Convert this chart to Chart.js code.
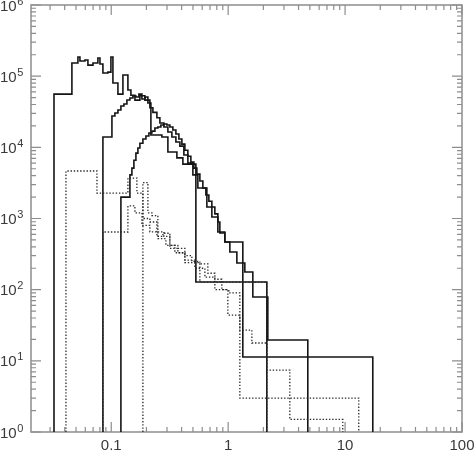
<!DOCTYPE html>
<html>
<head>
<meta charset="utf-8">
<script src="https://cdn.jsdelivr.net/npm/chart.js@4.4.1/dist/chart.umd.min.js"></script>
<style>
  html, body { margin: 0; padding: 0; background: #fff; }
</style>
</head>
<body>
<canvas id="chart" width="474" height="454"></canvas>
<script>
// histogram bin edges (x) and counts per bin (y)
const solidAEdges = [0.0324, 0.0461, 0.0519, 0.0540, 0.0596, 0.0632, 0.0698, 0.0769, 0.0801, 0.0849,
  0.0937, 0.0994, 0.1034, 0.1141, 0.1259, 0.1389, 0.1474, 0.1595, 0.1759, 0.1941, 0.2142, 0.2272,
  0.2458, 0.2607, 0.2821, 0.3052, 0.3302, 0.3573, 0.3865, 0.4182, 0.4523, 0.4993, 0.5508, 0.6575,
  0.7256, 0.8166, 0.9371, 1.034, 1.187, 1.389, 1.626, 2.184, 4.80];
const solidACounts = [5.6e4, 1.53e5, 1.86e5, 1.63e5, 1.69e5, 1.43e5, 1.53e5, 1.80e5, 1.48e5, 1.11e5,
  1.14e5, 1.86e5, 8.0e4, 5.6e4, 1.04e5, 6.4e4, 5.4e4, 4.6e4, 5.3e4, 4.6e4, 3.6e4, 3.1e4, 2.6e4,
  2.2e4, 1.93e4, 1.64e4, 1.4e4, 1.19e4, 1.04e4, 7.8e3, 6.0e3, 4.1e3, 2.68e3, 1.45e3, 1.05e3, 646,
  467, 338, 237, 177, 79, 19.6];

const solidBEdges = [0.0849, 0.1014, 0.1075, 0.1141, 0.1210, 0.1284, 0.1362, 0.1445, 0.1533, 0.1626,
  0.1725, 0.1830, 0.1941, 0.2059, 0.2184, 0.2712, 0.3052, 0.3644, 0.4101, 0.5296, 2.142];
const solidBCounts = [1.40e4, 2.75e4, 3.04e4, 3.34e4, 3.81e4, 4.06e4, 4.62e4, 4.93e4, 5.26e4, 5.09e4,
  5.6e4, 4.77e4, 5.09e4, 4.2e4, 1.49e4, 1.4e4, 8.6e3, 7.1e3, 5.8e3, 128];

const solidCEdges = [0.1210, 0.1445, 0.1503, 0.1563, 0.1626, 0.1691, 0.1759, 0.1866, 0.1980, 0.2100,
  0.2228, 0.2363, 0.2506, 0.2660, 0.2821, 0.2992, 0.3174, 0.3367, 0.3573, 0.3790, 0.4020, 0.4264,
  0.4523, 0.4798, 0.5090, 0.5400, 0.5730, 0.6077, 0.6447, 0.6840, 0.7256, 0.7697, 0.8166, 0.8492,
  0.9371, 1.335, 17.26];
const solidCCounts = [2.0e3, 4.1e3, 5.1e3, 6.6e3, 8.3e3, 9.8e3, 1.14e4, 1.31e4, 1.44e4, 1.59e4,
  1.69e4, 1.87e4, 1.93e4, 2.06e4, 2.13e4, 2.06e4, 1.93e4, 1.75e4, 1.54e4, 1.31e4, 1.11e4, 9.1e3,
  7.5e3, 6.2e3, 5.1e3, 4.2e3, 3.36e3, 2.68e3, 2.14e3, 1.75e3, 1.45e3, 1.16e3, 893, 625, 467, 11.3];

const dottedAEdges = [0.0410, 0.0755, 0.1389, 0.1658, 0.1866, 0.2142, 0.2458, 0.2766, 0.3174, 0.3716,
  0.4264, 0.4893, 0.5730, 0.6706, 0.7697, 0.8835, 1.014, 1.259, 13.09];
const dottedACounts = [4.65e3, 2.28e3, 3.7e3, 2.28e3, 1.0e3, 893, 560, 620, 420, 380, 300, 250, 230,
  170, 140, 100, 90, 3.0];

const dottedBEdges = [0.0849, 0.1389, 0.1595, 0.1830, 0.2142, 0.2506, 0.2934, 0.3503, 0.4264, 0.5193,
  0.6323, 0.7697, 0.9941, 1.259, 1.595, 2.142, 3.369, 9.557];
const dottedBCounts = [646, 1.5e3, 1.2e3, 800, 650, 520, 420, 330, 260, 200, 150, 100, 44, 27, 17.8,
  7.4, 1.5];

const dottedCEdges = [0.1866, 0.2059, 0.2228, 0.2506, 0.2821, 0.3174, 0.3716, 0.4264, 0.5730, 2.142];
const dottedCCounts = [3.2e3, 1.2e3, 1.1e3, 650, 560, 380, 330, 240, 128];

const xMajor = [0.1, 1, 10, 100];
const xTickLabels = ["0.1", "1", "10", "100"];
const yExponents = [0, 1, 2, 3, 4, 5, 6];

const X_MIN = 0.0206, X_MAX = 100, Y_MIN = 1, Y_MAX = 1e6;

// turn edges/counts into a step outline that starts and ends on the bottom axis
function stepPoints(edges, counts) {
  const pts = [{ x: edges[0], y: Y_MIN }];
  counts.forEach((c, i) => pts.push({ x: edges[i], y: c }));
  pts.push({ x: edges[edges.length - 1], y: Y_MIN });
  return pts;
}

function solid(edges, counts) {
  return { data: stepPoints(edges, counts), borderColor: "#151515", borderWidth: 1.6 };
}
function dotted(edges, counts) {
  return { data: stepPoints(edges, counts), borderColor: "#2a2a2a", borderWidth: 1.3, borderDash: [1.4, 1.8] };
}

const framePlugin = {
  id: "frame",
  beforeDatasetsDraw(chart) {
    const { ctx, chartArea: a, scales } = chart;
    const xs = scales.x, ys = scales.y;
    ctx.save();
    ctx.strokeStyle = "#8d8d8d";
    ctx.lineWidth = 1.5;
    ctx.strokeRect(a.left, a.top, a.right - a.left, a.bottom - a.top);

    ctx.lineWidth = 1.2;
    ctx.beginPath();
    // y ticks, left and right
    for (let k = 0; k <= 6; k++) {
      for (let m = 1; m <= 9; m++) {
        const v = m * Math.pow(10, k);
        if (v > Y_MAX) break;
        const py = ys.getPixelForValue(v);
        const len = m === 1 ? 10 : 5;
        ctx.moveTo(a.left, py); ctx.lineTo(a.left + len, py);
        ctx.moveTo(a.right, py); ctx.lineTo(a.right - len, py);
      }
    }
    // x ticks, bottom and top
    for (let k = -2; k <= 2; k++) {
      for (let m = 1; m <= 9; m++) {
        const v = m * Math.pow(10, k);
        if (v < X_MIN || v > X_MAX) continue;
        const px = xs.getPixelForValue(v);
        const len = m === 1 ? 10 : 5;
        ctx.moveTo(px, a.bottom); ctx.lineTo(px, a.bottom - len);
        ctx.moveTo(px, a.top); ctx.lineTo(px, a.top + len);
      }
    }
    ctx.stroke();

    // tick labels
    ctx.fillStyle = "#3a3a3a";
    ctx.textBaseline = "alphabetic";
    yExponents.forEach((e) => {
      const py = ys.getPixelForValue(Math.pow(10, e));
      ctx.font = "15px 'Liberation Sans', Arial, sans-serif";
      ctx.textAlign = "left";
      ctx.fillText("10", 0, py + 5.5);
      const w = ctx.measureText("10").width;
      ctx.font = "11px 'Liberation Sans', Arial, sans-serif";
      ctx.fillText(String(e), w + 0.5, py - 0.5);
    });
    ctx.font = "15px 'Liberation Sans', Arial, sans-serif";
    ctx.textAlign = "center";
    xMajor.forEach((v, i) => {
      ctx.fillText(xTickLabels[i], xs.getPixelForValue(v), 450);
    });
    ctx.restore();
  }
};

new Chart(document.getElementById("chart"), {
  type: "line",
  data: {
    datasets: [
      dotted(dottedAEdges, dottedACounts),
      dotted(dottedBEdges, dottedBCounts),
      dotted(dottedCEdges, dottedCCounts),
      solid(solidAEdges, solidACounts),
      solid(solidBEdges, solidBCounts),
      solid(solidCEdges, solidCCounts),
    ],
  },
  options: {
    responsive: false,
    animation: false,
    devicePixelRatio: 1,
    layout: { padding: { left: 31, right: 12, top: 5, bottom: 22 } },
    elements: {
      point: { radius: 0 },
      // "before": horizontal run at the current count, then the vertical step at the next edge
      line: { stepped: "before", tension: 0, fill: false },
    },
    plugins: {
      legend: { display: false },
      tooltip: { enabled: false },
    },
    scales: {
      x: { type: "logarithmic", min: X_MIN, max: X_MAX, display: false },
      y: { type: "logarithmic", min: Y_MIN, max: Y_MAX, display: false },
    },
  },
  plugins: [framePlugin],
});
</script>
</body>
</html>
